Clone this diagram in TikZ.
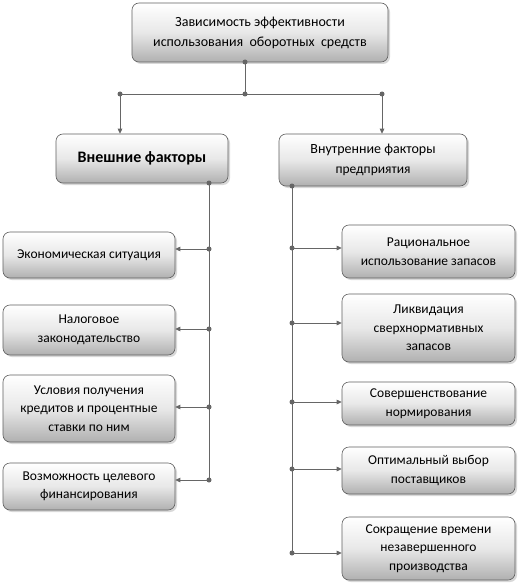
\documentclass[tikz,border=0pt]{standalone}
\usepackage{fontspec}
\setmainfont{Carlito}
\usetikzlibrary{shadows,arrows.meta}
\begin{document}
\begin{tikzpicture}[x=1pt,y=-1pt,
  box/.style={draw=gray!75!black, line width=0.6pt, rounded corners=7pt,
    top color=white, bottom color=gray!62, middle color=gray!18,
    drop shadow={shadow xshift=2pt,shadow yshift=-2pt,fill=gray!50,opacity=0.6},
    align=center, text=black, font=\fontsize{13.5}{18.5}\selectfont, inner sep=2pt},
  conn/.style={draw=gray!80!black, line width=0.9pt},
  arr/.style={conn, -{Triangle[length=5pt,width=4.5pt]}},
  dot/.style={circle, fill=gray!80!black, inner sep=0pt, minimum size=5pt}]
\useasboundingbox[fill=white] (0,0) rectangle (518,583);
% boxes
\node[box, minimum width=256pt, minimum height=59pt, font=\fontsize{14}{20}\selectfont] (top) at (260,32.5)
  {Зависимость эффективности\\использования\ \ оборотных\ \ средств};
\node[box, minimum width=172pt, minimum height=49pt, font=\bfseries\fontsize{16}{18}\selectfont] (ext) at (142,158.5) {Внешние факторы};
\node[box, minimum width=188pt, minimum height=52pt, font=\fontsize{14}{20}\selectfont] (int) at (373,160) {Внутренние факторы\\{\fontsize{13.5}{18}\selectfont предприятия}};
\node[box, minimum width=172pt, minimum height=46pt] (l1) at (89,255) {Экономическая ситуация};
\node[box, minimum width=172pt, minimum height=50pt] (l2) at (89,330) {Налоговое\\законодательство};
\node[box, minimum width=172pt, minimum height=67pt] (l3) at (89,408.5) {Условия получения\\кредитов и процентные\\ставки по ним};
\node[box, minimum width=172pt, minimum height=47pt] (l4) at (89,486.5) {Возможность целевого\\финансирования};
\node[box, minimum width=173pt, minimum height=53pt] (r1) at (428.5,251.5) {Рациональное\\использование запасов};
\node[box, minimum width=173pt, minimum height=68pt] (r2) at (428.5,328) {Ликвидация\\сверхнормативных\\запасов};
\node[box, minimum width=173pt, minimum height=43pt] (r3) at (428.5,403.5) {Совершенствование\\нормирования};
\node[box, minimum width=173pt, minimum height=47pt] (r4) at (428.5,470.5) {Оптимальный выбор\\поставщиков};
\node[box, minimum width=173pt, minimum height=63pt] (r5) at (428.5,548.5) {Сокращение времени\\незавершенного\\производства};
% junctions
\coordinate (t0) at (245,62);
\coordinate (j0) at (245,94);
\coordinate (jl) at (120,94);
\coordinate (jr) at (382,94);
\draw[conn] (t0) -- (j0);
\draw[conn] (jl) -- (jr);
\draw[arr] (jl) -- (jl |- ext.north);
\draw[arr] (jr) -- (jr |- int.north);
\node[dot] (d0) at (t0) {};
\node[dot] (d1) at (j0) {};
\node[dot] (d2) at (jl) {};
\node[dot] (d3) at (jr) {};
% left spine
\coordinate (ls) at (209,183);
\coordinate (a1) at (209,249);
\coordinate (a2) at (209,329);
\coordinate (a3) at (209,407);
\coordinate (a4) at (209,480);
\draw[conn] (ls) -- (a4);
\node[dot] at (ls) {};
\foreach \i in {1,2,3,4}{
  \draw[arr] (a\i) -- (a\i -| l\i.east);
  \node[dot] at (a\i) {};
}
% right spine
\coordinate (rs) at (292,186);
\coordinate (b1) at (292,248);
\coordinate (b2) at (292,323);
\coordinate (b3) at (292,402);
\coordinate (b4) at (292,469);
\coordinate (b5) at (292,553);
\draw[conn] (rs) -- (b5);
\node[dot] at (rs) {};
\foreach \i in {1,2,3,4,5}{
  \draw[arr] (b\i) -- (b\i -| r\i.west);
  \node[dot] at (b\i) {};
}
\end{tikzpicture}
\end{document}
